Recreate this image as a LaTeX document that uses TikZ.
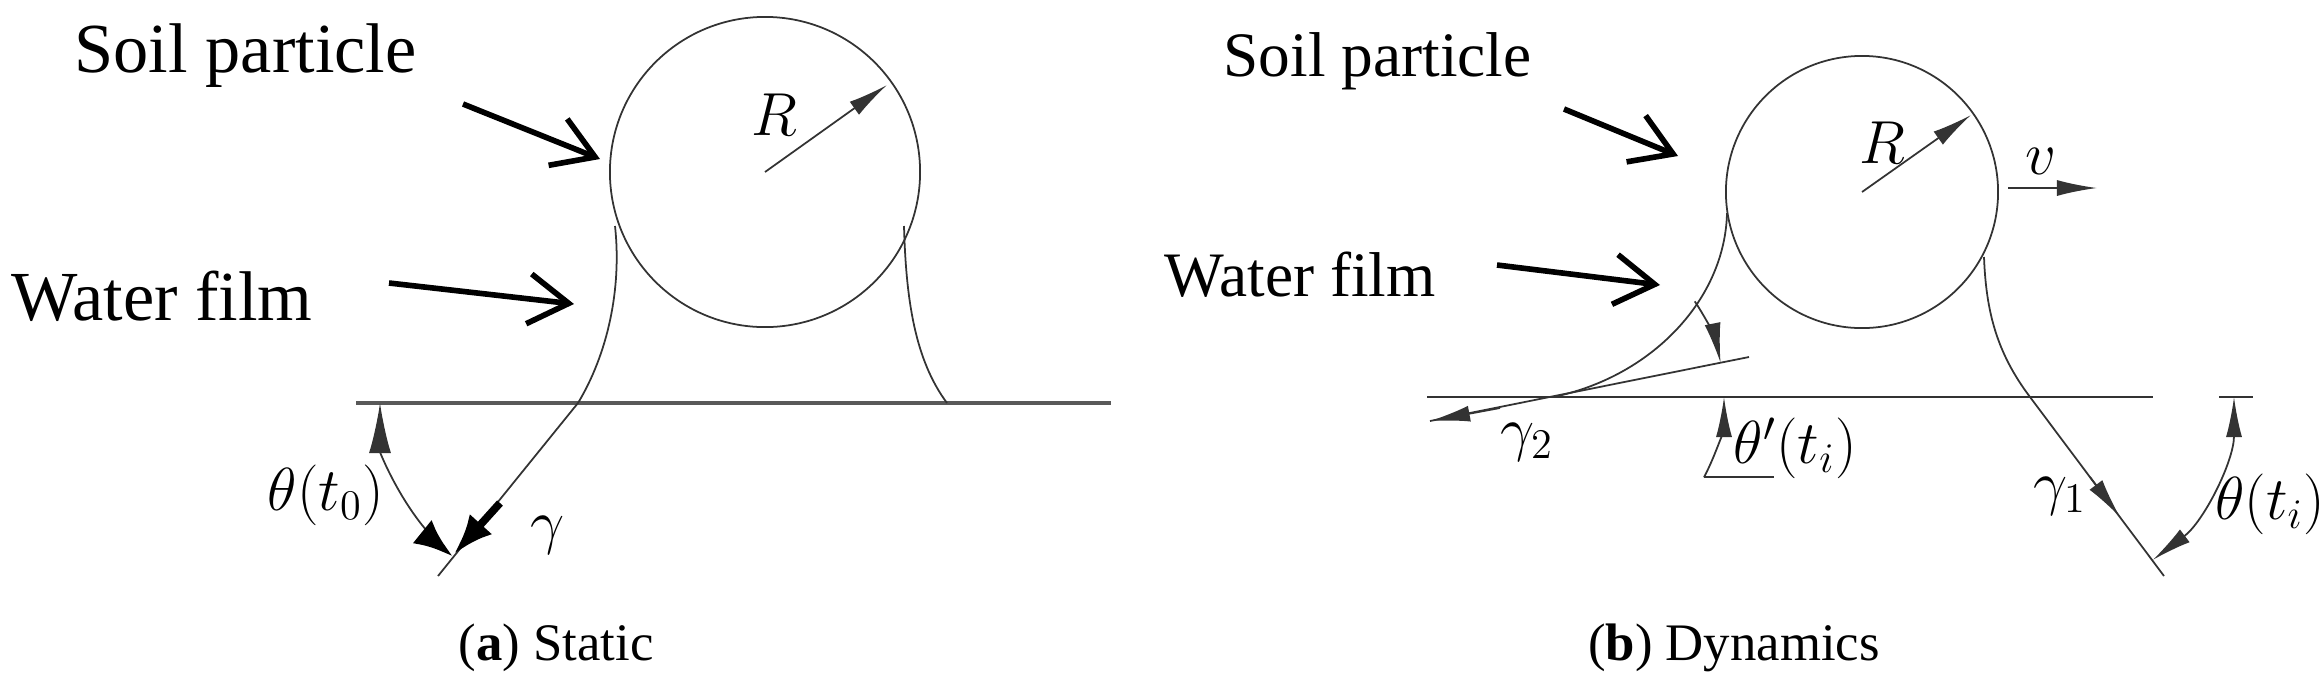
\documentclass[tikz,border=0pt]{standalone}
\usepackage{fontspec}
\setmainfont{Liberation Serif}
\usetikzlibrary{arrows.meta}
\begin{document}
\begin{tikzpicture}[x=0.01cm,y=0.01cm,
  thin line/.style={line width=0.5pt,black!80},
  lbl/.style={font=\fontsize{20}{24}\selectfont,inner sep=0pt},
  lblb/.style={font=\fontsize{18}{22}\selectfont,inner sep=0pt},
  sym/.style={font=\fontsize{17}{20}\selectfont,inner sep=0pt},
  captxt/.style={font=\fontsize{15}{18}\selectfont,inner sep=0pt},
  pointer/.style={line width=1.6pt,-{Straight Barb[length=4mm,width=5mm,line width=1.6pt]}},
  tip/.style={-{Latex[length=4mm,width=1.6mm]}},
  tips/.style={{Latex[length=4mm,width=1.6mm]}-{Latex[length=4mm,width=1.6mm]}}]
\useasboundingbox (0,0) rectangle (2323,-681);
% ---------------- (a) Static ----------------
\node[lbl,anchor=base west] (soilA) at (74,-72) {Soil particle};
\node[lbl,anchor=base west] (waterA) at (11,-320) {Water film};
\node[draw,thin line,circle,minimum size=3.1cm,inner sep=0] (cA) at (765,-172) {};
\coordinate (sA1) at (463,-104); \coordinate (sA2) at (600,-159);
\draw[pointer] (sA1) -- (sA2);
\coordinate (wA1) at (389,-283); \coordinate (wA2) at (574,-304);
\draw[pointer] (wA1) -- (wA2);
\coordinate (rA) at (887,-85);
\draw[thin line,tip] (cA.center) -- (rA);
\node[sym] (RA) at (774,-115) {$R$};
\coordinate (g1) at (356,-403); \coordinate (g2) at (1111,-403);
\draw[line width=1pt,black!65] (g1) -- (g2);
\coordinate (cpA) at (578,-403); \coordinate (eA) at (438,-576);
\draw[thin line] (615,-226) .. controls (622,-290) and (607,-355) .. (cpA) -- (eA);
\draw[thin line] (904,-226) .. controls (906,-300) and (915,-360) .. (947,-403);
\draw[line width=2.2pt,-{Latex[length=4mm,width=3mm]}] (500,-503) -- (454,-554);
\draw[thin line,{Latex[length=5mm,width=2.2mm]}-] (cpA) ++(180:198) arc[start angle=180,end angle=222,radius=198];
\draw[line width=2.2pt,-{Latex[length=4mm,width=3mm]}] (cpA) ++(222:198) arc[start angle=222,end angle=231,radius=198];
\node[sym] (thA) at (326,-495) {$\theta(t_0)$};
\node[sym] (gA) at (548,-535) {$\gamma$};
\node[captxt] (capA) at (556,-648) {(\textbf{a}) Static};
% ---------------- (b) Dynamics ----------------
\node[lblb,anchor=base west] (soilB) at (1223,-76) {Soil particle};
\node[lblb,anchor=base west] (waterB) at (1164,-296) {Water film};
\node[draw,thin line,circle,minimum size=2.72cm,inner sep=0] (cB) at (1862,-192) {};
\coordinate (sB1) at (1564,-109); \coordinate (sB2) at (1678,-156);
\draw[pointer] (sB1) -- (sB2);
\coordinate (wB1) at (1497,-265); \coordinate (wB2) at (1660,-285);
\draw[pointer] (wB1) -- (wB2);
\coordinate (rB) at (1971,-115);
\draw[thin line,tip] (cB.center) -- (rB);
\node[sym] (RB) at (1882,-143) {$R$};
\coordinate (v1) at (2008,-188); \coordinate (v2) at (2097,-188);
\draw[thin line,tip] (v1) -- (v2);
\node[sym] (vB) at (2041,-161) {$v$};
\coordinate (h1) at (1427,-397); \coordinate (h2) at (2153,-397);
\draw[thin line] (h1) -- (h2);
\draw[thin line] (2219,-397) -- (2253,-397);
\coordinate (cpB) at (1553,-397);
\coordinate (t1) at (1430,-421); \coordinate (t2) at (1749,-357);
\draw[thin line] (t1) -- (t2);
\draw[thin line,tip] (1500,-408) -- (t1);
\draw[thin line] (1727,-213) .. controls (1725,-300) and (1651,-377) .. (cpB);
\draw[thin line] (1984,-257) .. controls (1986,-310) and (1996,-352) .. (2030,-397) -- (2164,-576);
\draw[thin line,tip] (2090,-477) -- (2120,-517);
\draw[thin line,tip] (cpB) ++(34:171) arc[start angle=34,end angle=11.5,radius=171];
\draw[thin line,tip] (cpB) ++(-28:171) arc[start angle=-28,end angle=0,radius=171];
\draw[thin line] (cpB) ++(-28:171) -- ++(70,0);
\draw[thin line,tips] (2030,-397) ++(0:204) arc[start angle=0,end angle=-53,radius=204];
\node[sym,anchor=west] (tpB) at (1733,-448) {$\theta'(t_i)$};
\node[sym] (g2B) at (1527,-442) {$\gamma_2$};
\node[sym] (g1B) at (2060,-496) {$\gamma_1$};
\node[sym] (tB) at (2270,-504) {$\theta(t_i)$};
\node[captxt] (capB) at (1734,-648) {(\textbf{b}) Dynamics};
\end{tikzpicture}
\end{document}
